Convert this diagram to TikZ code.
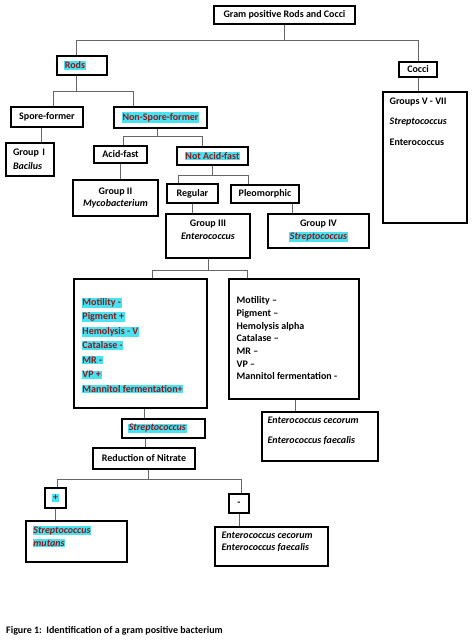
\documentclass[tikz,border=0pt]{standalone}
\usepackage{fontspec}
\setmainfont{Carlito}
\usetikzlibrary{positioning}
\definecolor{hlcyan}{RGB}{72,226,240}
\definecolor{hlred}{RGB}{140,25,30}
\newcommand\hlt[1]{{\setlength\fboxsep{0.8pt}\colorbox{hlcyan}{\color{hlred}#1}}}
\begin{document}
\begin{tikzpicture}[x=1pt,y=-1pt,
  every node/.style={font=\fontsize{10}{12}\selectfont\bfseries},
  box/.style={draw,line width=1.1pt,inner sep=0pt},
  size/.style 2 args={minimum width=#1pt,minimum height=#2pt},
  lft/.style={align=left,text width=#1pt},
  txt/.style={inner sep=0pt,font=\fontsize{10}{#1}\selectfont\bfseries},
  link/.style={draw=black!60,line width=0.8pt}]
\useasboundingbox (0,0) rectangle (473,641);
% top levels
\node (top) at (284.5,15) [box,size={141}{18}] {Gram positive Rods and Cocci};
\node (rods) at (82,65.5) [box,size={50}{19},lft=36] {\hlt{Rods}};
\node (cocci) at (418,69.5) [box,size={38}{15}] {Cocci};
\node (groupsv) at (425,157.5) [box,size={84}{131}] {};
\node (groupsvt) [below right=6pt and 7pt of groupsv.north west,anchor=north west,txt=20.5,align=left]
  {Groups V - VII\\\emph{Streptococcus}\\Enterococcus};
% rods
\node (spore) at (47,117) [box,size={72}{20}] {Spore-former};
\node (nonspore) at (160.5,117.5) [box,size={93}{21}] {\hlt{Non-Spore-former}};
\node (groupi) at (30,159.5) [box,size={48}{33},lft=34,txt=14] {Group I\\\emph{Bacilus}};
\node (acid) at (120.5,154.5) [box,size={53}{17}] {Acid-fast};
\node (notacid) at (212.5,156) [box,size={71}{18}] {\hlt{Not Acid-fast}};
\node (groupii) at (115.5,198) [box,size={85}{36},align=center,txt=12.5] {Group II\\\emph{Mycobacterium}};
\node (regular) at (192.5,193.5) [box,size={51}{19}] {Regular};
\node (pleo) at (265,194) [box,size={68}{18}] {Pleomorphic};
\node (groupiii) at (208,236) [box,size={84}{44}] {};
\node (groupiiit) [below=6pt of groupiii.north,txt=13,align=center] {Group III\\\emph{Enterococcus}};
\node (groupiv) at (318.5,231) [box,size={101}{34},align=center,txt=13] {Group IV\\\hlt{\emph{Streptococcus}}};
% tests
\node (tleft) at (140.5,343.5) [box,size={133}{129}] {};
\node (tleftt) [below right=19pt and 8pt of tleft.north west,anchor=north west,txt=14.5,align=left]
  {\hlt{Motility -}\\\hlt{Pigment +}\\\hlt{Hemolysis - V}\\\hlt{Catalase -}\\\hlt{MR -}\\\hlt{VP +}\\\hlt{Mannitol fermentation+}};
\node (tright) at (294,339) [box,size={130}{120}] {};
\node (trightt) [below right=18pt and 8pt of tright.north west,anchor=north west,txt=12.7,align=left]
  {Motility --\\Pigment --\\Hemolysis alpha\\Catalase --\\MR --\\VP --\\Mannitol fermentation -};
\node (enta) at (320,436.5) [box,size={116}{49}] {};
\node (entat) [below right=5pt and 6pt of enta.north west,anchor=north west,txt=20,align=left]
  {\emph{Enterococcus cecorum}\\\emph{Enterococcus faecalis}};
\node (strep) at (163.5,428.5) [box,size={83}{19},lft=71] {\hlt{\emph{Streptococcus}}};
\node (nitrate) at (144,458.5) [box,size={102}{21}] {Reduction of Nitrate};
\node (plus) at (55.5,498) [box,size={21}{20}] {\hlt{+}};
\node (minus) at (239,503.5) [box,size={20}{19}] {-};
\node (mutans) at (76.5,541.5) [box,size={101}{41}] {};
\node (mutanst) [below right=5pt and 7pt of mutans.north west,anchor=north west,txt=13,align=left]
  {\hlt{\emph{Streptococcus}}\\\hlt{\emph{mutans}}};
\node (entb) at (271.5,546.5) [box,size={113}{39}] {};
\node (entbt) [below right=5pt and 7pt of entb.north west,anchor=north west,txt=12,align=left]
  {\emph{Enterococcus cecorum}\\\emph{Enterococcus faecalis}};
\node (caption) at (6,631) [anchor=west,inner sep=0pt,font=\fontsize{10}{12}\selectfont\bfseries]
  {Figure 1:\ \ Identification of a gram positive bacterium};
% connectors
\draw [link] (top.south) -- ++(0,16) coordinate (topbus) -| ([xshift=-6pt]rods.north);
\draw [link] (topbus) -| (cocci.north);
\draw [link] (cocci.south) -- (cocci.south |- groupsv.north);
\draw [link] ([xshift=-6pt]rods.south) -- ++(0,16) coordinate (rodsbus) -| ([xshift=6pt]spore.north);
\draw [link] (rodsbus) -| ([xshift=-27.5pt]nonspore.north);
\draw [link] ([xshift=-6pt]spore.south) -- ([xshift=-6pt]spore.south |- groupi.north);
\draw [link] ([xshift=-3.5pt]nonspore.south) -- ++(0,8) coordinate (nsbus) -| ([xshift=2.5pt]acid.north);
\draw [link] (nsbus) -| ([xshift=-10.5pt]notacid.north);
\draw [link] (acid.south) -- (acid.south |- groupii.north);
\draw [link] (notacid.south) -- ++(0,10) coordinate (nabus) -| ([xshift=-14.5pt]regular.north);
\draw [link] (nabus) -| ([xshift=-17pt]pleo.north);
\draw [link] (regular.south) -- (regular.south |- groupiii.north);
\draw [link] ([xshift=27pt]pleo.south) -- ([xshift=27pt]pleo.south |- groupiv.north);
\draw [link] (groupiii.south) -- ++(0,12) coordinate (g3bus) -| ([xshift=11.5pt]tleft.north);
\draw [link] (g3bus) -| ([xshift=-47pt]tright.north);
\draw [link] ([xshift=1pt]tright.south) -- ([xshift=1pt]tright.south |- enta.north);
\draw [link] ([xshift=3.5pt]tleft.south) -- ([xshift=3.5pt]tleft.south |- strep.north);
\draw [link] ([xshift=-18.5pt]strep.south) -- ([xshift=-18.5pt]strep.south |- nitrate.north);
\draw [link] ([xshift=4pt]nitrate.south) -- ++(0,10) coordinate (nibus) -| ([xshift=1.5pt]plus.north);
\draw [link] (nibus) -| ([xshift=2pt]minus.north);
\draw [link] (plus.south) -- (plus.south |- mutans.north);
\draw [link] (minus.south) -- (minus.south |- entb.north);
\end{tikzpicture}
\end{document}
